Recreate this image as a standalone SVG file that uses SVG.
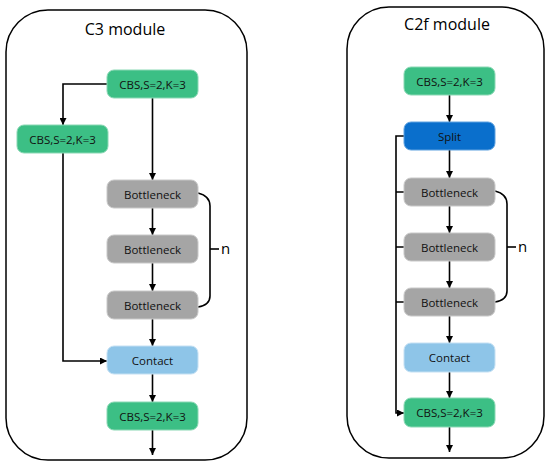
<svg xmlns="http://www.w3.org/2000/svg" width="550" height="467" viewBox="0 0 550 467">
<defs>
<marker id="ah" viewBox="0 0 10 10" refX="10" refY="5" markerWidth="7" markerHeight="7" markerUnits="userSpaceOnUse" orient="auto">
<path d="M0,0 L10,5 L0,10 z" fill="#000"/>
</marker>
<style>
.frame{fill:#fff;stroke:#000;stroke-width:1.5}
.title{font-family:"Open Sans","Liberation Sans",sans-serif;font-size:16px;fill:#000;text-anchor:middle}
.lbl{font-family:"Open Sans","Liberation Sans",sans-serif;font-size:11.5px;fill:#111;text-anchor:middle;dominant-baseline:central}
.n{font-family:"Open Sans","Liberation Sans",sans-serif;font-size:15px;fill:#000}
.g{fill:#3CBF85;stroke:#8ad8b4;stroke-width:1}
.b{fill:#0A6FCC;stroke:#5fa2e0;stroke-width:1}
.lb{fill:#8EC5E8;stroke:#c4e0f3;stroke-width:1}
.gr{fill:#A5A5A5;stroke:#c8c8c8;stroke-width:1}
.c{fill:none;stroke:#000;stroke-width:1.6}
.a{marker-end:url(#ah)}
</style>
</defs>
<g id="c3-frame"><rect class="frame" x="6" y="10" width="241" height="450" rx="42"/><text class="title" x="125" y="35">C3 module</text></g>
<g id="c2f-frame"><rect class="frame" x="347" y="7" width="197" height="451" rx="42"/><text class="title" x="447" y="30">C2f module</text></g>

<g id="connectors">
<!-- C3 -->
<path class="c a" d="M107,84 H63 V125"/>
<path class="c a" d="M152.5,98 V180"/>
<path class="c a" d="M152.5,208 V235"/>
<path class="c a" d="M152.5,263 V291"/>
<path class="c a" d="M152.5,319 V346"/>
<path class="c a" d="M63,153 V361 H107"/>
<path class="c a" d="M152.5,374 V402"/>
<path class="c a" d="M152.5,430 V455"/>
<path class="c" d="M198,193 Q210,196 210,206 V296 Q210,305 198,307"/>
<path class="c" d="M210,249 H219"/>
<!-- C2f -->
<path class="c a" d="M449.5,95 V122"/>
<path class="c a" d="M449.5,150 V178"/>
<path class="c a" d="M449.5,206 V233"/>
<path class="c a" d="M449.5,261 V288"/>
<path class="c a" d="M449.5,316 V343"/>
<path class="c a" d="M449.5,372 V398"/>
<path class="c a" d="M449.5,427 V452"/>
<path class="c a" d="M404,136 H396 V413 H404"/>
<path class="c" d="M396,192 H404 M396,247 H404 M396,302 H404"/>
<path class="c" d="M495,191 Q507,194 507,204 V291 Q507,300 495,302"/>
<path class="c" d="M507,247 H516"/>
</g>

<g id="c3-cbs1"><rect class="g" x="107" y="70" width="91" height="28" rx="7"/><text class="lbl" x="152.5" y="84">CBS,S=2,K=3</text></g>
<g id="c3-cbs2"><rect class="g" x="17" y="125" width="91" height="28" rx="7"/><text class="lbl" x="62.5" y="139">CBS,S=2,K=3</text></g>
<g id="c3-bn1"><rect class="gr" x="107" y="180" width="91" height="28" rx="7"/><text class="lbl" x="152.5" y="194">Bottleneck</text></g>
<g id="c3-bn2"><rect class="gr" x="107" y="235" width="91" height="28" rx="7"/><text class="lbl" x="152.5" y="249">Bottleneck</text></g>
<g id="c3-bn3"><rect class="gr" x="107" y="291" width="91" height="28" rx="7"/><text class="lbl" x="152.5" y="305">Bottleneck</text></g>
<g id="c3-concat"><rect class="lb" x="107" y="346" width="91" height="28" rx="7"/><text class="lbl" x="152.5" y="360">Contact</text></g>
<g id="c3-cbs3"><rect class="g" x="107" y="402" width="91" height="28" rx="7"/><text class="lbl" x="152.5" y="416">CBS,S=2,K=3</text></g>
<g id="c3-n"><text class="n" x="221" y="254">n</text></g>

<g id="c2f-cbs1"><rect class="g" x="404" y="67" width="91" height="28" rx="7"/><text class="lbl" x="449.5" y="81">CBS,S=2,K=3</text></g>
<g id="c2f-split"><rect class="b" x="404" y="122" width="91" height="28" rx="7"/><text class="lbl" x="449.5" y="136">Split</text></g>
<g id="c2f-bn1"><rect class="gr" x="404" y="178" width="91" height="28" rx="7"/><text class="lbl" x="449.5" y="192">Bottleneck</text></g>
<g id="c2f-bn2"><rect class="gr" x="404" y="233" width="91" height="28" rx="7"/><text class="lbl" x="449.5" y="247">Bottleneck</text></g>
<g id="c2f-bn3"><rect class="gr" x="404" y="288" width="91" height="28" rx="7"/><text class="lbl" x="449.5" y="302">Bottleneck</text></g>
<g id="c2f-concat"><rect class="lb" x="404" y="343" width="91" height="29" rx="7"/><text class="lbl" x="449.5" y="357.5">Contact</text></g>
<g id="c2f-cbs2"><rect class="g" x="404" y="398" width="91" height="29" rx="7"/><text class="lbl" x="449.5" y="412.5">CBS,S=2,K=3</text></g>
<g id="c2f-n"><text class="n" x="518" y="252">n</text></g>
</svg>
